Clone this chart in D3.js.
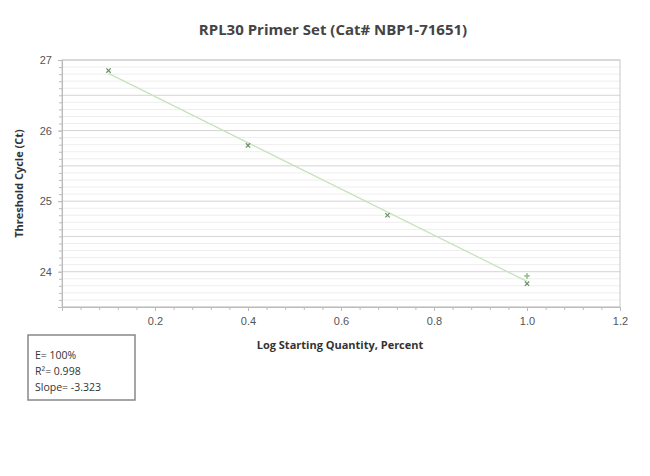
<!DOCTYPE html>
<html>
<head>
<meta charset="utf-8">
<script src="https://cdn.jsdelivr.net/npm/d3@7"></script>
<style>
  body { margin: 0; background: #fff; }
  svg { font-family: 'Open Sans', 'Liberation Sans', sans-serif; }
  .axis text { fill: #555; font-size: 11px; }
  .axis path, .axis line { stroke: #bbb; }
</style>
</head>
<body>
<svg class="chart"></svg>
<script>
// Standard curve points
var logQty = [0.1, 0.4, 0.7, 1.0, 1.0];
var ctValues = [26.85, 25.79, 24.80, 23.94, 23.83];
var xTicks = [0.2, 0.4, 0.6, 0.8, 1.0, 1.2];
var yTicks = [24, 25, 26, 27];
var statLines = ['E= 100%', 'R²= 0.998', 'Slope= -3.323'];

var width = 650, height = 476;
var margin = {left: 62, right: 30, top: 60, bottom: 169};

var chart = d3.select('.chart').attr('width', width).attr('height', height);

var x = d3.scaleLinear().domain([0, 1.2]).range([margin.left, width - margin.right]);
var y = d3.scaleLinear().domain([23.5, 27]).range([height - margin.bottom, margin.top]);

// gridlines: light minor ones, slightly darker every 0.5
var minor = d3.range(23.5, 27.001, 0.1);
chart.append('g').selectAll('line')
    .data(minor)
    .join('line')
    .attr('x1', x(0)).attr('x2', x(1.2))
    .attr('y1', d => y(d)).attr('y2', d => y(d))
    .attr('stroke', d => Math.abs(d * 2 - Math.round(d * 2)) < 1e-6 ? '#d4d4d4' : '#eeeeee')
    .attr('stroke-width', 1);

// plot border
chart.append('rect')
    .attr('x', x(0)).attr('y', y(27))
    .attr('width', x(1.2) - x(0)).attr('height', y(23.5) - y(27))
    .attr('fill', 'none').attr('stroke', '#c8c8c8');

// minor ticks
chart.append('g').attr('class', 'axis')
    .attr('transform', 'translate(0,' + y(23.5) + ')')
    .call(d3.axisBottom(x).tickValues(d3.range(0, 1.2001, 0.04)).tickSize(3).tickFormat(''))
    .call(g => g.select('.domain').remove());
chart.append('g').attr('class', 'axis')
    .attr('transform', 'translate(' + x(0) + ',0)')
    .call(d3.axisLeft(y).tickValues(minor).tickSize(3).tickFormat(''))
    .call(g => g.select('.domain').remove());

var xAxis = chart.append('g').attr('class', 'axis')
    .attr('transform', 'translate(0,' + y(23.5) + ')')
    .call(d3.axisBottom(x).tickValues(xTicks).tickSize(4).tickPadding(6).tickFormat(d3.format('.1f')));
xAxis.select('.domain').attr('stroke', '#aaa');

var yAxis = chart.append('g').attr('class', 'axis')
    .attr('transform', 'translate(' + x(0) + ',0)')
    .call(d3.axisLeft(y).tickValues(yTicks).tickSize(4).tickPadding(6).tickFormat(d3.format('d')));
yAxis.select('.domain').attr('stroke', '#aaa');

// least squares trend line from the points
var mx = d3.mean(logQty), my = d3.mean(ctValues);
var sxy = d3.sum(logQty, (v, i) => (v - mx) * (ctValues[i] - my));
var sxx = d3.sum(logQty, v => (v - mx) * (v - mx));
var slope = sxy / sxx, icept = my - slope * mx;
var x0 = d3.min(logQty), x1 = d3.max(logQty);
chart.append('line')
    .attr('x1', x(x0)).attr('y1', y(icept + slope * x0))
    .attr('x2', x(x1)).attr('y2', y(icept + slope * x1))
    .attr('stroke', '#c6e3bc').attr('stroke-width', 1.3);

// markers: the upper replicate at 1.0 is a lighter cross
chart.append('g').selectAll('path')
    .data(logQty.map((v, i) => [v, ctValues[i]]))
    .join('path')
    .attr('transform', d => 'translate(' + x(d[0]) + ',' + y(d[1]) + ')')
    .attr('d', (d, i) => i === 3 ? d3.symbol().type(d3.symbolCross).size(16)()
                                 : d3.symbol().type(d3.symbolX).size(14)())
    .attr('fill', (d, i) => i === 3 ? '#9cc294' : 'none')
    .attr('stroke', (d, i) => i === 3 ? 'none' : '#6a8f66')
    .attr('stroke-width', 1.2);

// titles
chart.append('text')
    .attr('x', 333).attr('y', 35)
    .attr('text-anchor', 'middle')
    .attr('font-size', 15).attr('font-weight', 'bold').attr('fill', '#444')
    .text('RPL30 Primer Set (Cat# NBP1-71651)');

chart.append('text')
    .attr('x', 340).attr('y', 349)
    .attr('text-anchor', 'middle')
    .attr('font-size', 11).attr('font-weight', 'bold').attr('fill', '#333')
    .text('Log Starting Quantity, Percent');

chart.append('text')
    .attr('transform', 'translate(23,' + y(25.25) + ') rotate(-90)')
    .attr('text-anchor', 'middle')
    .attr('font-size', 11).attr('font-weight', 'bold').attr('fill', '#333')
    .text('Threshold Cycle (Ct)');

// stats box
chart.append('rect')
    .attr('x', 28).attr('y', 335).attr('width', 107).attr('height', 65)
    .attr('fill', '#fff').attr('stroke', '#888').attr('stroke-width', 1.5);
chart.append('g').selectAll('text')
    .data(statLines)
    .join('text')
    .attr('x', 35).attr('y', (d, i) => 359 + i * 16)
    .attr('font-size', 10.5).attr('fill', '#333')
    .text(d => d);
</script>
</body>
</html>
